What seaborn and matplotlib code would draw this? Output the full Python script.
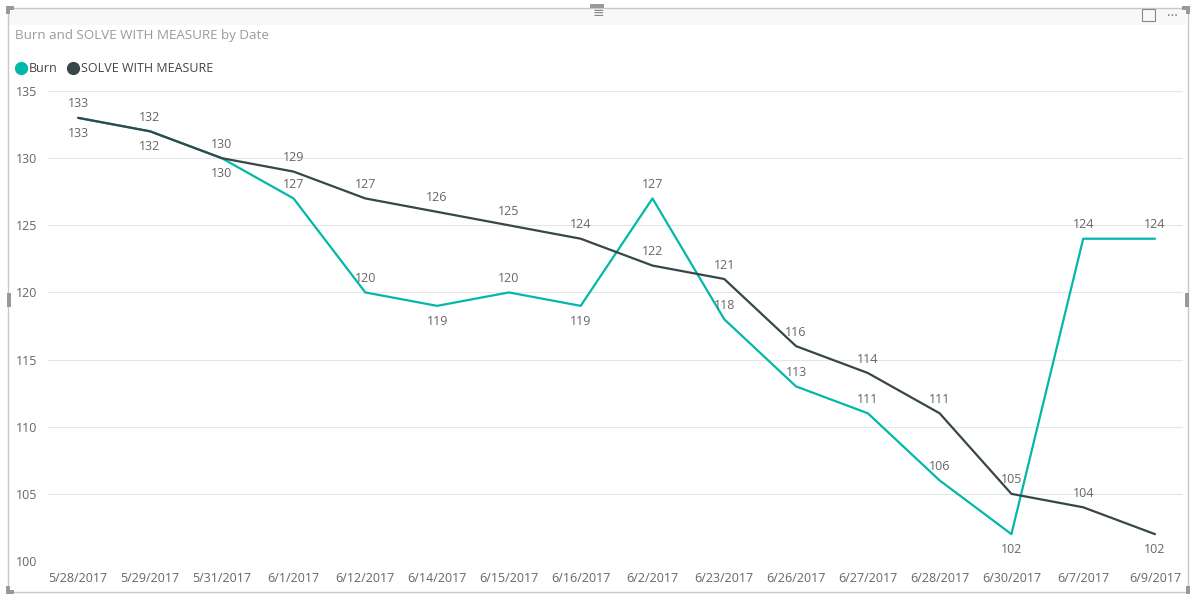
import pandas as pd
import numpy as np
import matplotlib
matplotlib.use('Agg')
import matplotlib.pyplot as plt
import seaborn as sns
from matplotlib.lines import Line2D
from matplotlib.patches import Rectangle

# %%
# Data
dates = ['5/28/2017', '5/29/2017', '5/31/2017', '6/1/2017', '6/12/2017', '6/14/2017',
         '6/15/2017', '6/16/2017', '6/2/2017', '6/23/2017', '6/26/2017', '6/27/2017',
         '6/28/2017', '6/30/2017', '6/7/2017', '6/9/2017']
burn = [133, 132, 130, 127, 120, 119, 120, 119, 127, 118, 113, 111, 106, 102, 124, 124]
solve = [133, 132, 130, 129, 127, 126, 125, 124, 122, 121, 116, 114, 111, 105, 104, 102]

# where each data label sits (style only)
burn_label_side = ['below', 'below', 'below', 'above', 'above', 'below', 'above', 'below',
                   'above', 'above', 'above', 'above', 'above', 'below', 'above', 'above']
solve_label_side = ['above'] * 15 + ['below']

BURN_COLOR = '#01B8AA'
SOLVE_COLOR = '#374649'
TEXT_COLOR = '#666666'

df = pd.DataFrame({
    'idx': list(range(len(dates))) * 2,
    'value': burn + solve,
    'series': ['Burn'] * len(dates) + ['SOLVE WITH MEASURE'] * len(dates),
})

# %%
sns.set_theme(style='white')
plt.rcParams['font.family'] = ['Open Sans', 'DejaVu Sans']

fig = plt.figure(figsize=(11.96, 6.0), dpi=100)
ax = fig.add_axes([48 / 1196, 1 - 561 / 600, (1183 - 48) / 1196, (561 - 91) / 600])

sns.lineplot(data=df, x='idx', y='value', hue='series', sort=False,
             palette={'Burn': BURN_COLOR, 'SOLVE WITH MEASURE': SOLVE_COLOR},
             linewidth=1.6, legend=False, ax=ax)

ax.set_xlim(-0.42, len(dates) - 1 + 0.39)
ax.set_ylim(100, 135)
ax.set_yticks(np.arange(100, 136, 5))
ax.set_xticks(range(len(dates)))
ax.set_xticklabels(dates)
ax.set_xlabel('')
ax.set_ylabel('')
ax.grid(axis='y', color='#e6e6e6', linewidth=0.8)
ax.set_axisbelow(True)
for s in ax.spines.values():
    s.set_visible(False)
ax.tick_params(axis='both', length=0, labelsize=9, labelcolor=TEXT_COLOR)
ax.tick_params(axis='y', pad=8)
ax.tick_params(axis='x', pad=8)

# data labels
def add_labels(values, sides):
    for i, (v, side) in enumerate(zip(values, sides)):
        off = 10 if side == 'above' else -11
        ax.annotate(str(v), (i, v), xytext=(0, off), textcoords='offset points',
                    ha='center', va='center', fontsize=9, color=TEXT_COLOR)

add_labels(burn, burn_label_side)
add_labels(solve, solve_label_side)

# title and legend
fig.text(15 / 1196, 1 - 36 / 600, 'Burn and SOLVE WITH MEASURE by Date',
         fontsize=9.6, color='#9a9a9a', va='center', ha='left')
ly = 1 - 68 / 600
for cx, tx, name, col in [(21, 29, 'Burn', BURN_COLOR), (73, 81, 'SOLVE WITH MEASURE', SOLVE_COLOR)]:
    fig.add_artist(Line2D([cx / 1196], [ly], marker='o', markersize=8.5, color=col,
                          linestyle='', transform=fig.transFigure))
    fig.text(tx / 1196, ly, name, fontsize=9, color='#444444', va='center', ha='left')

# visual frame
fig.patches.append(Rectangle((8 / 1196, 8 / 600), 1180 / 1196, 584 / 600,
                             transform=fig.transFigure, fill=False,
                             edgecolor='#c8c8c8', linewidth=1))
fig.patches.append(Rectangle((9 / 1196, 1 - 25 / 600), 1178 / 1196, 17 / 600,
                             transform=fig.transFigure, facecolor='#f8f8f8',
                             edgecolor='none', zorder=-1))
for (x, y, w, h) in [(6, 590, 8, 4), (6, 586, 4, 8), (1182, 590, 8, 4), (1186, 586, 4, 8),
                     (6, 6, 8, 4), (6, 6, 4, 8), (1186, 6, 4, 8),
                     (1185, 293, 4, 14), (7, 293, 4, 14), (590, 592, 14, 4)]:
    fig.patches.append(Rectangle((x / 1196, y / 600), w / 1196, h / 600,
                                 transform=fig.transFigure, facecolor='#999999',
                                 edgecolor='none'))
fig.text(598 / 1196, 1 - 14 / 600, '≡', fontsize=10, color='#888888',
         ha='center', va='center')
fig.text(1172 / 1196, 1 - 16 / 600, '···', fontsize=10, color='#777777',
         ha='center', va='center')
fig.patches.append(Rectangle((1142 / 1196, 1 - 21 / 600), 13 / 1196, 12 / 600,
                             transform=fig.transFigure, fill=False,
                             edgecolor='#888888', linewidth=0.8))

fig.savefig('out.png', dpi=100)
